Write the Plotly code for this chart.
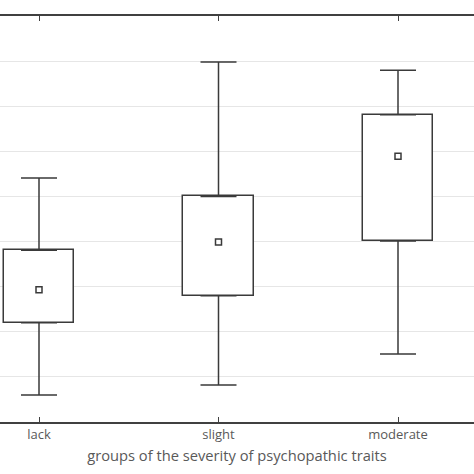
import plotly.graph_objects as go

# Groups and their summary statistics
groups = ["lack", "slight", "moderate"]
means = [2.93, 3.99, 5.89]
box_low = [2.20, 2.80, 4.01]
box_high = [3.81, 5.00, 6.81]
whisker_low = [0.60, 0.82, 1.51]
whisker_high = [5.41, 7.98, 7.80]

line_col = "#3a3a3a"
box_w = 0.395

fig = go.Figure()

# Upper whiskers: from box top up to the upper limit
fig.add_trace(go.Scatter(
    x=groups, y=box_high, mode="markers",
    marker=dict(size=1, opacity=0),
    error_y=dict(type="data", symmetric=False,
                 array=[h - b for h, b in zip(whisker_high, box_high)],
                 arrayminus=[0, 0, 0],
                 color=line_col, thickness=1.5, width=18),
    hoverinfo="skip", showlegend=False,
))

# Lower whiskers: from box bottom down to the lower limit
fig.add_trace(go.Scatter(
    x=groups, y=box_low, mode="markers",
    marker=dict(size=1, opacity=0),
    error_y=dict(type="data", symmetric=False,
                 array=[0, 0, 0],
                 arrayminus=[b - l for b, l in zip(box_low, whisker_low)],
                 color=line_col, thickness=1.5, width=18),
    hoverinfo="skip", showlegend=False,
))

# Boxes
fig.add_trace(go.Bar(
    x=groups, y=[h - l for h, l in zip(box_high, box_low)], base=box_low,
    width=box_w,
    marker=dict(color="white", line=dict(color=line_col, width=1.5)),
    showlegend=False,
))

# Mean markers
fig.add_trace(go.Scatter(
    x=groups, y=means, mode="markers",
    marker=dict(symbol="square-open", size=6, color=line_col, line=dict(width=1.5)),
    showlegend=False,
))

fig.update_layout(
    width=474, height=474,
    margin=dict(l=0, r=0, t=16, b=52),
    paper_bgcolor="white", plot_bgcolor="white",
    font=dict(family="Open Sans, Noto Sans, sans-serif", color="#595959", size=13),
    bargap=0,
)

fig.update_xaxes(
    type="category", range=[-0.2173, 2.4234],
    showline=True, linecolor="#404040", linewidth=1.5, mirror="ticks",
    ticks="inside", ticklen=5, tickcolor="#404040", tickwidth=1,
    showgrid=False,
    tickfont=dict(size=13, color="#595959"),
    title=dict(text="groups of the severity of psychopathic traits",
               font=dict(size=14.7, color="#595959"), standoff=8),
)

fig.update_yaxes(
    range=[0, 9], dtick=1, showticklabels=False,
    showgrid=True, gridcolor="#e6e6e6", gridwidth=1,
    showline=False, zeroline=False, ticks="",
)

fig.write_html("out.html")
